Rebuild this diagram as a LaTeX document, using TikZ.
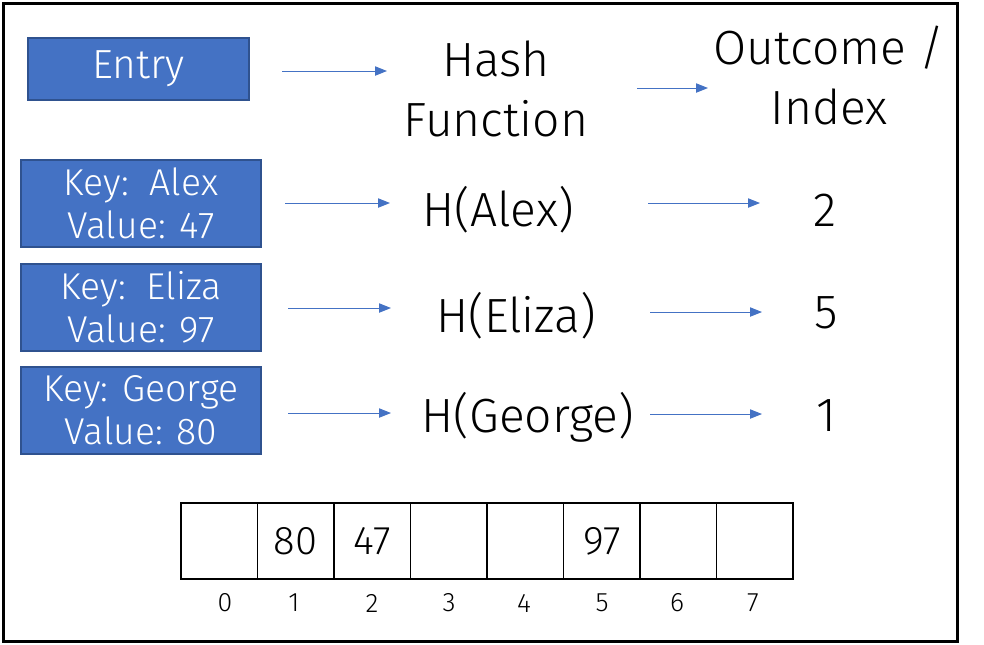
\documentclass[tikz,border=0pt]{standalone}
\usepackage{fontspec}
\setmainfont{Fira Sans Light}
\usetikzlibrary{arrows.meta,calc}
\definecolor{boxblue}{HTML}{4472C4}
\definecolor{boxedge}{HTML}{2F528F}
\begin{document}
\begin{tikzpicture}[x=0.75pt,y=-0.75pt,
  bluebox/.style={draw=boxedge,line width=1.5pt,fill=boxblue,text=white,inner sep=0pt,align=center},
  entrybox/.style={bluebox,minimum width=165.75pt,minimum height=46.5pt,font=\fontsize{30.5}{35}\selectfont},
  keybox/.style={bluebox,minimum width=180pt,minimum height=65.25pt,font=\fontsize{28}{32.5}\selectfont},
  bigtext/.style={font=\fontsize{36}{45}\selectfont,inner sep=0pt,align=center},
  arr/.style={draw=boxblue,line width=0.75pt,-{Triangle[length=9pt,width=7pt]}},
  cell/.style={draw,line width=1.4pt,minimum width=57.4pt,minimum height=57pt,inner sep=0pt,font=\fontsize{30}{34}\selectfont},
  idx/.style={font=\fontsize{20}{24}\selectfont,inner sep=0pt}]
\useasboundingbox (0,0) rectangle (984,644);
\draw[line width=2.25pt] (3,3) rectangle (957,641);

% left column
\node[entrybox] (entry) at (138.5,69) {Entry};
\node[keybox] (alex) at (141,203) {Key:\ \ Alex\\Value: 47};
\node[keybox] (eliza) at (141,307) {Key:\ \ Eliza\\Value: 97};
\node[keybox] (george) at (141,410) {Key: George\\Value: 80};

% middle column
\node[bigtext] (hash) at (496,89) {Hash\\Function};
\node[bigtext,anchor=base] (halex) at (498,226) {H(Alex)};
\node[bigtext,anchor=base] (heliza) at (516,332) {H(Eliza)};
\node[bigtext,anchor=base] (hgeorge) at (528,432) {H(George)};

% right column
\node[bigtext] (outcome) at (829,75) {Outcome /\\Index};
\node[bigtext,anchor=base] (ialex) at (825,226) {2};
\node[bigtext,anchor=base] (ieliza) at (826,328) {5};
\node[bigtext,anchor=base] (igeorge) at (826,431) {1};

% arrows
\draw[arr] ([shift={(32,2)}]entry.east) -- ++(105,0);
\draw[arr] ([shift={(23,0)}]alex.east) -- ++(105,0);
\draw[arr] ([shift={(26,1)}]eliza.east) -- ++(103,0);
\draw[arr] ([shift={(26,3)}]george.east) -- ++(103,0);
\draw[arr] ([shift={(141,-1)}]hash.center) -- ++(71,0);
\draw[arr] ([shift={(150,-23)}]halex.base) -- ++(112,0);
\draw[arr] ([shift={(134,-20)}]heliza.base) -- ++(112,0);
\draw[arr] ([shift={(122,-18)}]hgeorge.base) -- ++(112,0);

% table
\foreach \i/\v in {0/,1/80,2/47,3/,4/,5/97,6/,7/}
  \node[cell] (c\i) at ({219.25+76.5*\i},541) {\v};
\foreach \i/\xx in {0/225,1/294,2/372,3/449,4/524,5/602,6/677,7/753}
  \node[idx] (l\i) at (\xx,603) {\i};
\end{tikzpicture}
\end{document}
